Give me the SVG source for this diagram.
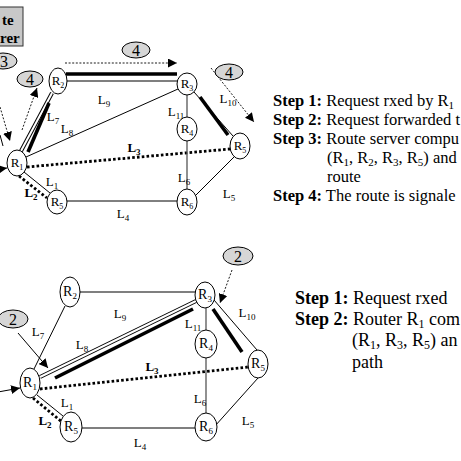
<svg xmlns="http://www.w3.org/2000/svg" width="461" height="461" viewBox="0 0 461 461">
<defs>
<marker id="ah" viewBox="0 0 10 10" refX="10" refY="5" markerWidth="9" markerHeight="9" markerUnits="userSpaceOnUse" orient="auto"><path d="M0,0 L10,5 L0,10 z" fill="#000"/></marker>
</defs>
<style>
text{font-family:"Liberation Serif","Times New Roman",serif;fill:#000}
.node ellipse{fill:#fff;stroke:#000;stroke-width:1}
.node text{font-size:13px;text-anchor:middle}
.big .node text{font-size:14px}
.tag ellipse{fill:#d6d6d6;stroke:#000;stroke-width:1}
.tag text{font-size:16px;text-anchor:middle}
.ln{stroke:#000;stroke-width:1;fill:none}
.gr{stroke:#555;stroke-width:1.3;fill:none}
.thick{stroke:#000;stroke-width:3.6;fill:none}
.dot{stroke:#000;stroke-width:2.8;stroke-dasharray:2.6 2.2;fill:none}
.darr{stroke:#000;stroke-width:0.9;stroke-dasharray:2 1.6;fill:none}
.dblo{stroke:#000;stroke-width:4;fill:none}
.dbli{stroke:#fff;stroke-width:2;fill:none}
.lbl{font-size:13px;text-anchor:middle}
.b{font-weight:bold}
.step{font-size:16.5px}
.step2{font-size:18px}
</style>

<!-- Top diagram -->
<g id="route-server">
<rect x="-5" y="7" width="28" height="39" fill="#c8c8c8" stroke="#333" stroke-width="1"/>
<text x="2" y="25" font-size="15" font-weight="bold">te</text>
<text x="0" y="43" font-size="15" font-weight="bold">rer</text>
</g>

<g id="top-connectors">
<line class="gr" x1="67" y1="81" x2="177" y2="81"/>
<line class="thick" x1="66" y1="74" x2="177" y2="74"/>
<line class="dblo" x1="21" y1="151" x2="52" y2="93"/>
<line class="dbli" x1="21" y1="151" x2="52" y2="93"/>
<line class="thick" x1="28" y1="152" x2="49" y2="103"/>
<line class="ln" x1="26" y1="157" x2="178" y2="89"/>
<line class="dot" x1="27" y1="167" x2="230" y2="149"/>
<line class="ln" x1="24" y1="172" x2="50" y2="193"/>
<line class="dot" x1="19" y1="176" x2="47" y2="198"/>
<line class="ln" x1="67" y1="201" x2="177" y2="201"/>
<line class="ln" x1="234" y1="157" x2="195" y2="196"/>
<line class="gr" x1="187" y1="141" x2="187" y2="189"/>
<line class="gr" x1="187" y1="95" x2="187" y2="117"/>
<line class="ln" x1="194" y1="92" x2="233" y2="136"/>
<line class="thick" x1="200" y1="97" x2="228" y2="135"/>
<line class="darr" x1="65" y1="63" x2="177" y2="63" marker-end="url(#ah)"/>
<line class="darr" x1="211" y1="68" x2="254" y2="122" marker-end="url(#ah)"/>
<line class="darr" x1="22" y1="130" x2="37" y2="88" marker-end="url(#ah)"/>
<line class="darr" x1="0" y1="107" x2="10" y2="141" marker-end="url(#ah)"/>
<line class="ln" x1="0" y1="135" x2="3" y2="146"/>
<line class="ln" x1="-6" y1="170" x2="7" y2="168" marker-end="url(#ah)"/>
</g>

<g id="top-tags">
<g class="tag" id="t-tag3"><ellipse cx="3" cy="61" rx="14" ry="8"/><text x="4" y="67">3</text></g>
<g class="tag" id="t-tag4a"><ellipse cx="30" cy="79" rx="13" ry="8"/><text x="30" y="85">4</text></g>
<g class="tag" id="t-tag4b"><ellipse cx="136" cy="50" rx="14" ry="8"/><text x="136" y="56">4</text></g>
<g class="tag" id="t-tag4c"><ellipse cx="229" cy="72" rx="14" ry="8"/><text x="229" y="78">4</text></g>
</g>

<g id="top-labels">
<text class="lbl" x="53" y="121">L<tspan font-size="9" dy="3">7</tspan></text>
<text class="lbl" x="67" y="133">L<tspan font-size="9" dy="3">8</tspan></text>
<text class="lbl" x="104" y="104">L<tspan font-size="9" dy="3">9</tspan></text>
<text class="lbl b" x="134" y="152">L<tspan font-size="9" dy="3">3</tspan></text>
<text class="lbl" x="52" y="186">L<tspan font-size="9" dy="3">1</tspan></text>
<text class="lbl b" x="31" y="197">L<tspan font-size="9" dy="3">2</tspan></text>
<text class="lbl" x="123" y="218">L<tspan font-size="9" dy="3">4</tspan></text>
<text class="lbl" x="176" y="116">L<tspan font-size="9" dy="3">11</tspan></text>
<text class="lbl" x="184" y="182">L<tspan font-size="9" dy="3">6</tspan></text>
<text class="lbl" x="229" y="198">L<tspan font-size="9" dy="3">5</tspan></text>
<text class="lbl" x="228" y="103">L<tspan font-size="9" dy="3">10</tspan></text>
</g>

<g id="t-R1" class="node"><ellipse cx="17" cy="163" rx="10" ry="13"/><text x="17" y="167">R<tspan font-size="8" dy="3">1</tspan></text></g>
<g id="t-R2" class="node"><ellipse cx="58" cy="81" rx="9" ry="13"/><text x="58" y="85">R<tspan font-size="8" dy="3">2</tspan></text></g>
<g id="t-R3" class="node"><ellipse cx="187" cy="84" rx="10" ry="11"/><text x="187" y="88">R<tspan font-size="8" dy="3">3</tspan></text></g>
<g id="t-R4" class="node"><ellipse cx="187" cy="129" rx="10" ry="12"/><text x="187" y="133">R<tspan font-size="8" dy="3">4</tspan></text></g>
<g id="t-R5" class="node"><ellipse cx="240" cy="146" rx="10" ry="13"/><text x="240" y="150">R<tspan font-size="8" dy="3">5</tspan></text></g>
<g id="t-R6" class="node"><ellipse cx="187" cy="202" rx="10" ry="13"/><text x="187" y="206">R<tspan font-size="8" dy="3">6</tspan></text></g>
<g id="t-R5b" class="node"><ellipse cx="57" cy="202" rx="10" ry="12"/><text x="57" y="206">R<tspan font-size="8" dy="3">5</tspan></text></g>

<g id="top-steps" class="step">
<text x="273" y="106"><tspan class="b">Step 1:</tspan> Request rxed by R<tspan font-size="11" dy="3">1</tspan></text>
<text x="273" y="125"><tspan class="b">Step 2:</tspan> Request forwarded t</text>
<text x="273" y="144"><tspan class="b">Step 3:</tspan> Route server compu</text>
<text x="327" y="163">(R<tspan font-size="11" dy="3">1</tspan><tspan dy="-3">, R</tspan><tspan font-size="11" dy="3">2</tspan><tspan dy="-3">, R</tspan><tspan font-size="11" dy="3">3</tspan><tspan dy="-3">, R</tspan><tspan font-size="11" dy="3">5</tspan><tspan dy="-3">) and</tspan></text>
<text x="327" y="182">route</text>
<text x="273" y="201"><tspan class="b">Step 4:</tspan> The route is signale</text>
</g>

<!-- Bottom diagram -->
<g id="bottom-connectors">
<line class="gr" x1="80" y1="292" x2="195" y2="292"/>
<line class="ln" x1="65" y1="306" x2="34" y2="369"/>
<line class="dblo" x1="40" y1="377" x2="196" y2="301"/>
<line class="dbli" x1="40" y1="377" x2="196" y2="301"/>
<line class="thick" x1="55" y1="378" x2="193" y2="309"/>
<line class="dot" x1="40" y1="389" x2="248" y2="367"/>
<line class="ln" x1="37" y1="395" x2="63" y2="416"/>
<line class="dot" x1="33" y1="398" x2="62" y2="422"/>
<line class="gr" x1="82" y1="428" x2="195" y2="428"/>
<line class="ln" x1="258" y1="378" x2="215" y2="426"/>
<line class="gr" x1="206" y1="358" x2="206" y2="413"/>
<line class="gr" x1="206" y1="308" x2="206" y2="330"/>
<line class="ln" x1="214" y1="300" x2="257" y2="350"/>
<line class="thick" x1="213" y1="309" x2="242" y2="352"/>
<line class="darr" x1="232" y1="270" x2="220" y2="303" marker-end="url(#ah)"/>
<line class="ln" x1="18" y1="333" x2="48" y2="368" marker-end="url(#ah)"/>
<line class="ln" x1="-2" y1="392" x2="20" y2="388" marker-end="url(#ah)"/>
</g>

<g id="bottom-tags">
<g class="tag" id="b-tag2a"><ellipse cx="13" cy="319" rx="15" ry="9"/><text x="13" y="325" font-size="17">2</text></g>
<g class="tag" id="b-tag2b"><ellipse cx="238" cy="256" rx="15" ry="9"/><text x="238" y="262" font-size="17">2</text></g>
</g>

<g id="bottom-labels">
<text class="lbl" x="38" y="336">L<tspan font-size="9" dy="3">7</tspan></text>
<text class="lbl" x="120" y="318">L<tspan font-size="9" dy="3">9</tspan></text>
<text class="lbl" x="82" y="349">L<tspan font-size="9" dy="3">8</tspan></text>
<text class="lbl b" x="152" y="371">L<tspan font-size="9" dy="3">3</tspan></text>
<text class="lbl" x="67" y="407">L<tspan font-size="9" dy="3">1</tspan></text>
<text class="lbl b" x="45" y="425">L<tspan font-size="9" dy="3">2</tspan></text>
<text class="lbl" x="140" y="447">L<tspan font-size="9" dy="3">4</tspan></text>
<text class="lbl" x="200" y="403">L<tspan font-size="9" dy="3">6</tspan></text>
<text class="lbl" x="248" y="425">L<tspan font-size="9" dy="3">5</tspan></text>
<text class="lbl" x="193" y="328">L<tspan font-size="9" dy="3">11</tspan></text>
<text class="lbl" x="247" y="317">L<tspan font-size="9" dy="3">10</tspan></text>
</g>

<g class="big">
<g id="b-R1" class="node"><ellipse cx="30" cy="383" rx="10" ry="15"/><text x="30" y="387">R<tspan font-size="9" dy="3">1</tspan></text></g>
<g id="b-R2" class="node"><ellipse cx="70" cy="292" rx="10" ry="15"/><text x="70" y="296">R<tspan font-size="9" dy="3">2</tspan></text></g>
<g id="b-R3" class="node"><ellipse cx="205" cy="295" rx="10" ry="13"/><text x="205" y="299">R<tspan font-size="9" dy="3">3</tspan></text></g>
<g id="b-R4" class="node"><ellipse cx="206" cy="344" rx="11" ry="14"/><text x="206" y="348">R<tspan font-size="9" dy="3">4</tspan></text></g>
<g id="b-R5" class="node"><ellipse cx="258" cy="364" rx="10" ry="14"/><text x="258" y="368">R<tspan font-size="9" dy="3">5</tspan></text></g>
<g id="b-R6" class="node"><ellipse cx="206" cy="427" rx="11" ry="14"/><text x="206" y="431">R<tspan font-size="9" dy="3">6</tspan></text></g>
<g id="b-R5b" class="node"><ellipse cx="71" cy="427" rx="11" ry="15"/><text x="71" y="431">R<tspan font-size="9" dy="3">5</tspan></text></g>
</g>

<g id="bottom-steps" class="step2">
<text x="295" y="304"><tspan class="b">Step 1:</tspan> Request rxed</text>
<text x="295" y="325"><tspan class="b">Step 2:</tspan> Router R<tspan font-size="12" dy="2.5">1</tspan><tspan dy="-2.5"> com</tspan></text>
<text x="352" y="346">(R<tspan font-size="12" dy="2.5">1</tspan><tspan dy="-2.5">, R</tspan><tspan font-size="12" dy="2.5">3</tspan><tspan dy="-2.5">, R</tspan><tspan font-size="12" dy="2.5">5</tspan><tspan dy="-2.5">) an</tspan></text>
<text x="352" y="368">path</text>
</g>
</svg>
